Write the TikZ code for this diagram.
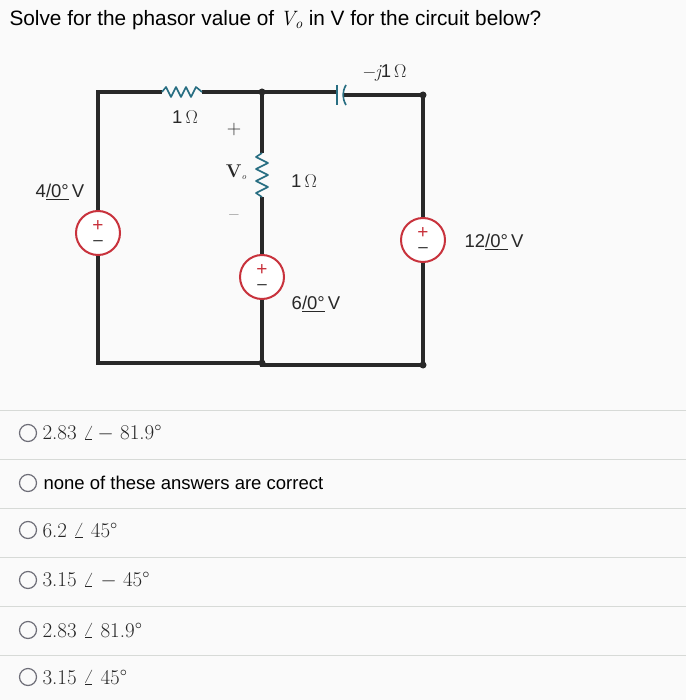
\documentclass[tikz,border=0pt]{standalone}
\usepackage{fontspec}
\setmainfont{Liberation Sans}
\newfontfamily\serifm{Latin Modern Roman}
\usetikzlibrary{calc}
\definecolor{wire}{RGB}{40,40,40}
\definecolor{res}{RGB}{40,110,130}
\definecolor{srcred}{RGB}{200,50,60}
\definecolor{opt}{RGB}{110,110,120}
\definecolor{sep}{RGB}{215,218,215}
\newcommand{\phs}[1]{#1\underline{\smash{/}0°}\,V}
\begin{document}
\begin{tikzpicture}[x=1pt,y=-1pt,
  wirel/.style={line width=3.4pt,color=wire},
  resl/.style={line width=1.6pt,color=res,line join=round},
  srcc/.style={circle,draw=srcred,line width=2pt,fill=white,minimum size=44pt,inner sep=0pt},
  lbl/.style={font=\fontsize{18.5}{20}\selectfont,text=wire},
  pm/.style={inner sep=0pt},
  radio/.style={circle,draw=opt,line width=1.2pt,minimum size=17pt,inner sep=0pt},
  anstext/.style={anchor=west,font=\serifm\fontsize{21}{23}\selectfont,text=black!85},
  sepl/.style={sep,line width=0.8pt}]
\useasboundingbox[fill=gray!4] (0,0) rectangle (686,700);
\node[anchor=west,font=\fontsize{20.8}{23}\selectfont] (title) at (6,20) {Solve for the phasor value of {\serifm\itshape V\textsubscript{o}} in V for the circuit below?};
% corner coordinates
\coordinate (tl) at (98,92); \coordinate (tm) at (262,92); \coordinate (tr) at (423,95);
\coordinate (bl) at (98,363); \coordinate (bm) at (262,363); \coordinate (br) at (423,365);
\coordinate (r1a) at (162,92); \coordinate (r1b) at (202,92);
\coordinate (ca) at (337,95); \coordinate (cb) at (343,95);
\coordinate (r2a) at (262,153); \coordinate (r2b) at (262,197);
\node[srcc] (s1) at (98,233) {};
\node[srcc] (s2) at (262,277) {};
\node[srcc] (s3) at (423,240) {};
\foreach \s in {s1,s2,s3}{
  \node[pm,font=\fontsize{19}{19}\selectfont,text=srcred] at ($(\s)+(0,-7)$) {+};
  \node[pm,font=\fontsize{17}{17}\selectfont,text=wire] at ($(\s)+(0,10)$) {\textendash};}
% wires
\draw[wirel] (r1b) -- (tm) -- (tm -| ca);
\draw[wirel] (cb |- tr) -- (tr) -- (s3.north);
\draw[wirel] (s3.south) -- (br) -- (br -| bm) -- (bm) -- (bl) -- (s1.south);
\draw[wirel] (s1.north) -- (tl) -- (r1a);
\draw[wirel] (tm) -- (tm |- tr);
\draw[wirel] (tm) -- (r2a); \draw[wirel] (r2b) -- (s2.north); \draw[wirel] (s2.south) -- (bm);
\fill[wire] (tm) circle (3.5pt) (tr) circle (3.5pt) (bm) circle (3.5pt) (br) circle (3.5pt);
% resistors
\draw[resl] (r1a) -- ++(4,-5) -- ++(5,10) -- ++(5,-10) -- ++(5,10) -- ++(5,-10) -- ++(5,10) -- ++(5,-10) -- (r1b);
\draw[resl] (r2a) -- ++(-6,4) -- ++(12,6) -- ++(-12,6) -- ++(12,6) -- ++(-12,6) -- ++(12,6) -- ++(-12,6) -- (r2b);
% capacitor
\draw[line width=1.6pt,res] (ca) ++(0,-10) -- ++(0,20);
\draw[line width=1.6pt,res] (cb) ++(3,-10) to[bend right=30] ++(0,20);
% labels
\node[lbl] (l1) at (185,117) {1\,{\serifm Ω}};
\node[lbl] (lc) at (384,73) {{\serifm\itshape −j}1\,{\serifm Ω}};
\node[lbl] (l2) at (304,181) {1\,{\serifm Ω}};
\node[lbl,font=\serifm\fontsize{20}{20}\selectfont] (pl) at (234,130) {+};
\node[lbl,font=\serifm\fontsize{20}{20}\selectfont] (mi) at (234,218) {–};
\node[lbl] (vo) at (236,172) {{\serifm\bfseries V}\raisebox{-2pt}{\serifm\itshape\small o}};
\node[lbl] (v1) at (60,192) {\phs{4}};
\node[lbl] (v2) at (316,304) {\phs{6}};
\node[lbl] (v3) at (494,242) {\phs{12}};
% answers
\foreach \y in {410,459,508,557,606,655} \draw[sepl] (0,\y) -- (686,\y);
\foreach \y/\t [count=\i] in {433/{2.83 $\angle\,-$ 81.9°},530/{6.2 $\angle$ 45°},580/{3.15 $\angle$ $-$ 45°},630/{2.83 $\angle$ 81.9°},677/{3.15 $\angle$ 45°}}{
  \node[radio] (o\i) at (28,\y) {};
  \node[anstext] (t\i) at (39,\y) {\t};}
\node[radio] (o6) at (28,483) {};
\node[anchor=west,font=\fontsize{18.5}{20}\selectfont] (t6) at (40,483) {none of these answers are correct};
\end{tikzpicture}
\end{document}
